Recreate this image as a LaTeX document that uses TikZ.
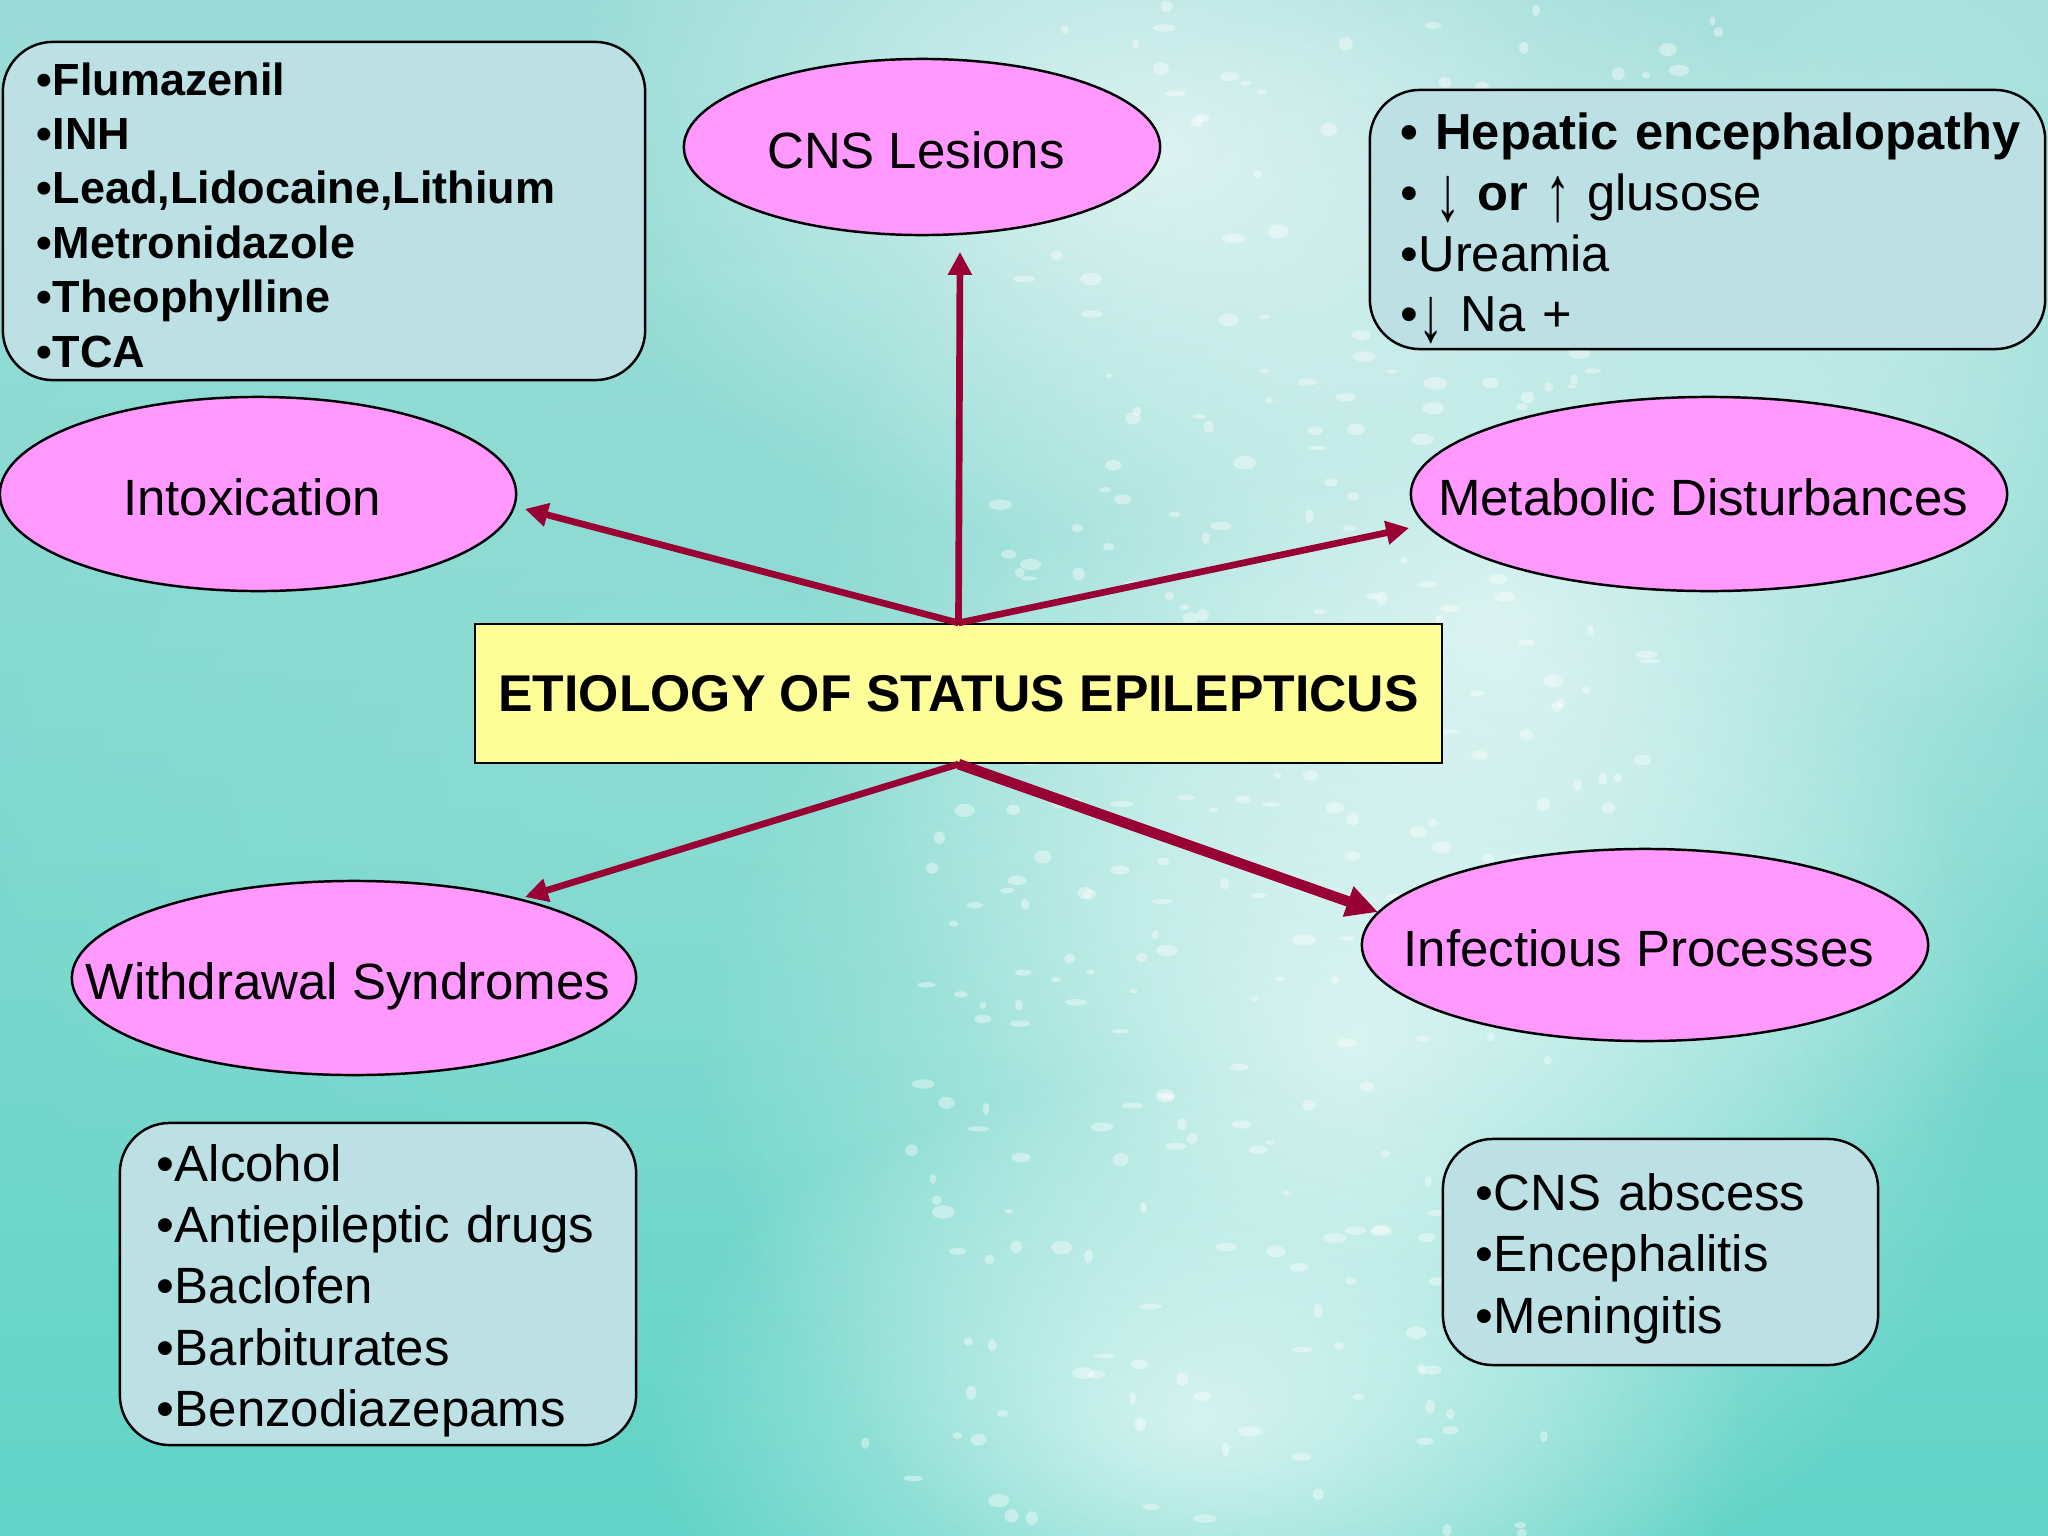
\documentclass[tikz,border=0pt]{standalone}
\usepackage{fontspec}
\usepackage{graphicx}
\setmainfont{Liberation Sans}
\usetikzlibrary{arrows.meta,fadings,shapes.geometric}
\definecolor{pinkfill}{HTML}{FF99FF}
\definecolor{listfill}{HTML}{BCE0E3}
\definecolor{titlefill}{HTML}{FFFF99}
\definecolor{arrowred}{HTML}{990033}
\definecolor{waterTop}{HTML}{9CDCD8}
\definecolor{waterBot}{HTML}{62D4C7}
\definecolor{waterMid}{HTML}{A8E6DA}
\tikzfading[name=softblob, inner color=transparent!35, outer color=transparent!100]
\tikzfading[name=faintblob, inner color=transparent!70, outer color=transparent!100]
\newcommand\clabel[1]{\makebox[0pt]{#1\hspace{0.12cm}}}
\newcommand\dnarrow{\raisebox{-0.2em}{\scalebox{1}[1.55]{↓}}}
\newcommand\uparrowglyph{\raisebox{-0.2em}{\scalebox{1}[1.55]{↑}}}
\begin{document}
\begin{tikzpicture}[x=0.01cm,y=-0.01cm,
  cause/.style={ellipse, draw=black, line width=0.7pt, fill=pinkfill, inner sep=0pt,
    text height=12pt, text depth=0pt, font=\fontsize{14.5}{17}\selectfont},
  listbox/.style={draw=black, line width=0.7pt, fill=listfill, rounded corners=0.5cm,
    align=left, inner ysep=0pt},
  titlebox/.style={draw=black, line width=0.6pt, fill=titlefill, minimum width=9.67cm,
    minimum height=1.39cm, inner sep=0pt, font=\bfseries\fontsize{14.7}{17}\selectfont},
  link/.style={draw=arrowred, line width=1.9pt, -{Triangle[length=6.5pt,width=6.5pt]}},
  biglink/.style={draw=arrowred, line width=3pt, -{Triangle[length=9pt,width=8.5pt]}},
  foam/.style={fill=white, opacity=0.4}
]
\useasboundingbox (0,0) rectangle (2048,1536);
% background water
\shade[top color=waterTop, bottom color=waterBot] (0,0) rectangle (2048,1536);
\fill[waterMid, path fading=faintblob] (700,750) ellipse (900 and 700);
\fill[white, path fading=softblob] (1150,150) ellipse (600 and 400);
\fill[white, path fading=softblob] (1500,620) ellipse (700 and 650);
\fill[white, path fading=softblob] (1350,1050) ellipse (650 and 600);
\fill[white, path fading=softblob] (1200,1420) ellipse (550 and 350);
\fill[white, path fading=faintblob] (1900,250) ellipse (400 and 500);
\pgfmathsetseed{7}
\foreach \k in {1,...,360}{
  \pgfmathsetmacro\yy{rnd*1536}
  \pgfmathsetmacro\xx{1300-0.12*(\yy-700)+(rnd-0.5)*700}
  \pgfmathsetmacro\ra{3+rnd*9}
  \pgfmathsetmacro\rb{2+rnd*5}
  \fill[foam] (\xx,\yy) ellipse (\ra*1 and \rb*1);
}

% central title
\node[titlebox] (title) at (958.5,693.5) {ETIOLOGY OF STATUS EPILEPTICUS};

% causes
\node[cause, minimum width=4.76cm, minimum height=1.76cm] (cns) at (922,147) {\clabel{CNS Lesions}};
\node[cause, minimum width=5.16cm, minimum height=1.94cm] (intox) at (258,494) {\clabel{Intoxication}};
\node[cause, minimum width=5.96cm, minimum height=1.94cm] (meta) at (1709,494) {\clabel{Metabolic Disturbances}};
\node[cause, minimum width=5.64cm, minimum height=1.94cm] (withd) at (354,978) {\clabel{Withdrawal Syndromes}};
\node[cause, minimum width=5.66cm, minimum height=1.92cm] (infect) at (1645,945) {\clabel{Infectious Processes}};

% lists
\node[listbox, text width=5.74cm, inner xsep=0.34cm, minimum height=3.38cm,
  font=\bfseries\fontsize{12.8}{15.48}\selectfont] (tl) at (324,211)
  {\mbox{\rule{0pt}{11.6pt}•Flumazenil}\\\mbox{•INH}\\\mbox{•Lead,Lidocaine,Lithium}\\\mbox{•Metronidazole}\\\mbox{•Theophylline}\\\mbox{•TCA}};
\node[listbox, text width=6.13cm, inner xsep=0.31cm, minimum height=2.59cm,
  font=\fontsize{14.4}{17.27}\selectfont] (tr) at (1707.5,219.5)
  {\mbox{\rule{0pt}{15.6pt}\textbf{• Hepatic encephalopathy}}\\\mbox{• \dnarrow\ \textbf{or} \uparrowglyph\ glusose}\\\mbox{•Ureamia}\\\mbox{•\dnarrow\ Na +}};
\node[listbox, text width=4.42cm, inner xsep=0.37cm, minimum height=3.22cm,
  font=\fontsize{14.5}{17.43}\selectfont] (bl) at (378,1284)
  {\mbox{\rule{0pt}{14.3pt}•Alcohol}\\\mbox{•Antiepileptic drugs}\\\mbox{•Baclofen}\\\mbox{•Barbiturates}\\\mbox{•Benzodiazepams}};
\node[listbox, text width=3.69cm, inner xsep=0.33cm, minimum height=2.26cm,
  font=\fontsize{14.5}{17.45}\selectfont] (br) at (1660.5,1252)
  {\mbox{\rule{0pt}{14.3pt}•CNS abscess}\\\mbox{•Encephalitis}\\\mbox{•Meningitis}};

% arrow tips
\coordinate (tipC) at (960,252);
\coordinate (tipI) at (525,509);
\coordinate (tipM) at (1409,528);
\coordinate (tipW) at (525,897);
\coordinate (tipF) at (1378,912);

\draw[link] (title.north) -- (tipC);
\draw[link] (title.north) -- (tipI);
\draw[link] (title.north) -- (tipM);
\draw[link] (title.south) -- (tipW);
\draw[biglink] (title.south) -- (tipF);
\end{tikzpicture}
\end{document}
